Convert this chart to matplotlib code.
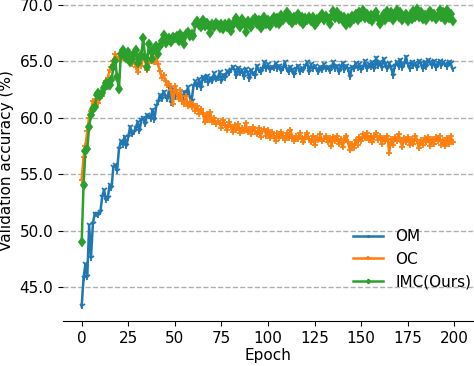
import numpy as np
import matplotlib
matplotlib.use('Agg')
import matplotlib.pyplot as plt

# Validation accuracy per epoch
epochs = np.arange(200)

om = [
    43.3, 45.8, 47.0, 45.9, 50.5, 47.6, 50.6, 51.5, 51.5, 51.4,
    51.6, 53.0, 53.6, 52.7, 52.9, 54.0, 53.8, 55.6, 55.8, 55.3,
    57.2, 57.9, 57.6, 58.3, 57.5, 58.3, 59.2, 58.5, 58.7, 59.1,
    59.6, 58.8, 59.8, 60.0, 59.4, 60.2, 60.1, 59.9, 60.7, 59.8,
    61.0, 61.4, 62.0, 61.6, 62.3, 61.9, 61.6, 62.6, 61.3, 62.5,
    61.8, 62.1, 61.7, 61.8, 61.5, 62.3, 61.9, 62.7, 61.8, 61.5,
    62.8, 63.2, 62.7, 63.4, 62.6, 63.6, 63.3, 63.7, 63.1, 63.5,
    63.2, 63.9, 63.4, 63.5, 64.0, 63.2, 63.8, 63.5, 64.1, 63.9,
    64.2, 64.5, 64.2, 63.7, 64.4, 63.9, 64.2, 63.6, 64.3, 64.0,
    63.4, 64.2, 63.9, 63.7, 64.6, 64.2, 64.0, 64.3, 64.9, 64.3,
    64.7, 64.2, 64.5, 64.4, 64.8, 64.3, 64.6, 64.1, 64.4, 64.9,
    64.3, 64.0, 64.5, 64.2, 63.8, 64.3, 64.6, 64.0, 64.4, 64.2,
    64.6, 64.9, 64.0, 64.7, 64.3, 64.6, 64.3, 64.0, 64.5, 64.2,
    64.7, 64.3, 64.5, 64.1, 64.4, 64.9, 64.3, 64.6, 64.0, 64.5,
    64.8, 64.2, 64.6, 64.3, 63.6, 64.5, 64.3, 64.8, 64.4, 64.7,
    64.2, 64.5, 65.0, 64.3, 64.7, 64.5, 64.9, 64.3, 65.3, 64.6,
    64.9, 64.4, 65.2, 64.7, 64.3, 64.8, 64.5, 63.7, 64.6, 64.9,
    64.5, 65.1, 64.4, 64.7, 65.4, 64.7, 64.3, 64.9, 64.6, 64.8,
    64.4, 65.0, 64.8, 64.3, 64.9, 64.5, 65.1, 64.9, 64.6, 65.0,
    64.4, 64.8, 65.0, 64.6, 64.9, 64.7, 64.5, 64.9, 64.8, 64.3,
]

oc = [
    54.5, 56.5, 57.5, 58.8, 60.0, 60.6, 61.5, 61.2, 61.6, 61.3,
    62.2, 61.9, 62.8, 63.2, 63.5, 64.2, 64.5, 65.0, 65.6, 65.2,
    65.4, 65.1, 65.8, 65.3, 65.5, 65.0, 65.4, 64.7, 65.2, 64.5,
    64.0, 65.0, 64.6, 65.3, 65.1, 64.2, 64.8, 65.3, 65.2, 64.9,
    65.4, 64.7, 64.1, 63.5, 63.8, 63.2, 62.9, 63.0, 62.4, 61.2,
    62.8, 62.2, 61.6, 62.4, 61.5, 61.2, 61.9, 61.0, 61.4, 60.9,
    61.2, 60.6, 61.0, 60.3, 60.8, 60.4, 59.6, 60.3, 59.8, 60.5,
    59.6, 60.0, 59.4, 59.7, 59.5, 59.1, 59.8, 59.3, 58.9, 59.6,
    59.2, 58.7, 59.3, 58.9, 59.4, 58.6, 59.1, 58.8, 59.5, 58.7,
    59.0, 58.5, 59.2, 58.8, 58.5, 59.1, 58.3, 58.8, 59.0, 58.4,
    58.9, 58.2, 58.7, 58.4, 57.9, 58.6, 58.2, 58.7, 58.4, 58.0,
    58.6, 58.2, 58.9, 58.3, 57.9, 58.4, 58.1, 58.6, 58.2, 57.8,
    58.3, 58.6, 58.1, 57.8, 58.4, 57.6, 58.2, 58.0, 58.5, 57.9,
    58.1, 58.4, 57.8, 58.2, 57.5, 58.3, 57.9, 58.4, 57.7, 58.1,
    57.4, 58.0, 58.4, 57.8, 57.1, 57.7, 57.3, 58.0, 57.6, 58.3,
    57.9, 58.5, 58.2, 58.6, 58.0, 58.4, 57.8, 58.3, 58.6, 58.0,
    58.4, 57.7, 58.2, 57.9, 58.4, 56.9, 58.1, 57.6, 58.3, 57.9,
    58.5, 58.0, 57.4, 58.2, 57.8, 58.3, 57.6, 58.1, 57.7, 58.4,
    57.9, 57.3, 58.0, 57.6, 58.2, 57.8, 58.3, 57.5, 58.1, 57.7,
    58.3, 57.9, 58.4, 57.6, 58.0, 57.5, 58.2, 57.7, 58.4, 57.8,
]

imc = [
    49.0, 54.0, 57.0, 57.2, 59.2, 60.2, 60.8, 60.9, 62.0, 62.2,
    61.9, 62.2, 62.6, 63.1, 62.9, 62.9, 63.3, 64.5, 65.0, 63.6,
    62.5, 65.6, 66.0, 65.5, 65.3, 65.8, 64.9, 65.2, 65.6, 66.0,
    64.8, 65.2, 65.5, 67.0, 65.4, 64.5, 66.5, 65.9, 65.2, 66.1,
    66.3, 65.6, 66.3, 66.8, 67.3, 66.6, 66.9, 67.0, 66.7, 67.1,
    67.0, 67.2, 66.8, 67.4, 67.1, 66.5, 67.4, 67.6, 67.2, 67.4,
    67.2, 68.3, 68.5, 68.2, 68.0, 68.6, 68.1, 68.4, 68.2, 67.5,
    68.3, 68.0, 68.4, 68.2, 67.9, 68.3, 67.8, 68.3, 68.0, 68.4,
    67.7, 68.2, 68.5, 68.8, 68.3, 68.0, 68.7, 68.4, 67.6, 68.5,
    68.3, 68.0, 68.6, 68.8, 68.3, 68.6, 67.9, 68.6, 68.9, 68.3,
    68.6, 68.1, 68.6, 68.9, 68.4, 68.8, 68.3, 69.1, 68.6, 68.9,
    69.3, 68.6, 69.0, 68.4, 68.9, 68.6, 69.2, 68.5, 68.9, 68.3,
    68.8, 68.6, 68.9, 68.5, 68.9, 68.2, 68.7, 68.5, 68.9, 69.2,
    68.6, 69.0, 68.7, 68.3, 68.9, 69.4, 68.8, 69.3, 68.7, 69.0,
    68.5, 68.9, 68.2, 68.8, 68.4, 69.0, 68.7, 69.2, 68.6, 69.3,
    68.9, 69.5, 68.8, 69.2, 68.7, 69.1, 68.5, 68.9, 69.3, 68.8,
    68.3, 68.8, 69.2, 68.6, 69.4, 68.9, 69.3, 68.6, 69.0, 69.5,
    68.9, 69.3, 68.6, 68.9, 69.2, 68.5, 69.0, 68.7, 69.4, 68.9,
    69.6, 68.9, 69.3, 68.7, 69.1, 68.6, 69.0, 69.4, 68.9, 69.2,
    68.7, 69.0, 69.5, 68.9, 69.3, 68.6, 69.5, 68.8, 69.2, 68.5,
]

series = [
    ('OM', om, '#1f77b4', '1'),
    ('OC', oc, '#ff7f0e', '+'),
    ('IMC(Ours)', imc, '#2ca02c', 'd'),
]

fig = plt.figure(figsize=(4.74, 3.66), dpi=100)
ax = fig.add_axes([0.133, 0.123, 0.865, 0.877])

for name, vals, color, marker in series:
    ax.plot(epochs, vals, color=color, marker=marker, markersize=4.5,
            markeredgewidth=1.3, linewidth=1.8, label=name)

ax.set_xlim(-10, 210)
ax.set_ylim(42.0, 70.4)
ax.set_xticks([0, 25, 50, 75, 100, 125, 150, 175, 200])
ax.set_yticks([45, 50, 55, 60, 65, 70])
ax.set_yticklabels([f'{v:.1f}' for v in [45, 50, 55, 60, 65, 70]])
ax.tick_params(labelsize=11)
ax.yaxis.grid(True, linestyle='--', color='#b0b0b0', linewidth=1)
ax.set_axisbelow(True)

for side in ['left', 'top', 'right']:
    ax.spines[side].set_visible(False)

ax.set_xlabel('Epoch', fontsize=11, labelpad=2)
ax.set_ylabel('Validation accuracy (%)', fontsize=11)
ax.legend(loc='lower right', bbox_to_anchor=(1.03, 0.056), frameon=False,
          fontsize=11, handlelength=2.0, markerscale=0.5)

fig.savefig('out.png', dpi=100)
